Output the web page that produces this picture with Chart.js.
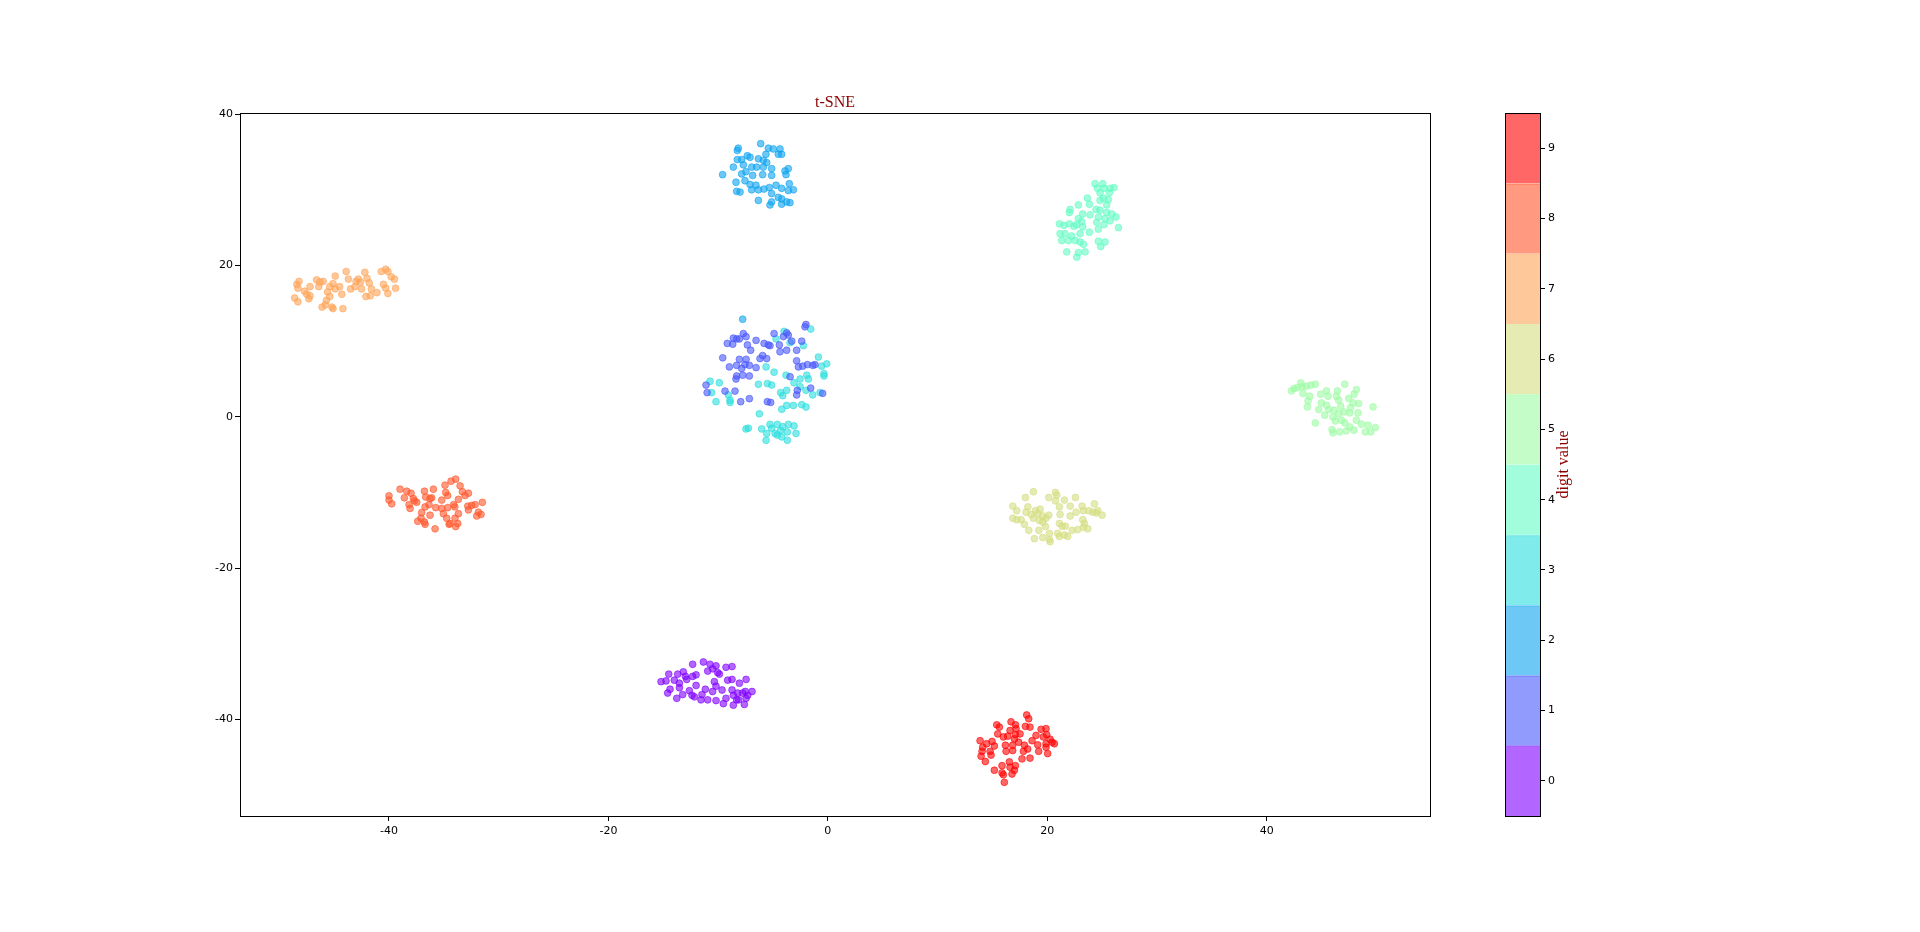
<!DOCTYPE html>
<html>
<head>
<meta charset="utf-8">
<script src="https://cdn.jsdelivr.net/npm/chart.js@4.4.1/dist/chart.umd.min.js"></script>
<style>
  html, body { margin: 0; padding: 0; background: #ffffff; }
  #wrap { position: relative; width: 1920px; height: 932px; }
  canvas { position: absolute; left: 0; top: 0; }
</style>
</head>
<body>
<div id="wrap">
  <canvas id="main" width="1920" height="932"></canvas>
  <canvas id="cbar" width="1920" height="932"></canvas>
</div>
<script>
// ---------------- data ----------------
const digits = [0, 1, 2, 3, 4, 5, 6, 7, 8, 9];
const xTicks = [-40, -20, 0, 20, 40];
const yTicks = [-40, -20, 0, 20, 40];
const colorbarTicks = [0, 1, 2, 3, 4, 5, 6, 7, 8, 9];
const chartTitle = 't-SNE';
const colorbarLabel = 'digit value';

const digit0 = [[-15.2,-35.0],[-14.75,-34.9],[-14.5,-34.0],[-14.38,-36.0],[-14.6,-36.5],[-13.99,-34.8],[-13.68,-34.0],[-13.77,-37.2],[-13.53,-35.2],[-13.53,-35.8],[-13.17,-33.7],[-12.98,-34.3],[-12.86,-34.7],[-13.23,-36.7],[-12.62,-36.2],[-12.32,-34.3],[-12.01,-34.1],[-12.32,-32.7],[-12.01,-35.5],[-12.38,-36.8],[-12.16,-37.0],[-11.47,-36.7],[-11.34,-32.4],[-11.16,-36.0],[-11.56,-37.4],[-10.95,-37.4],[-10.95,-33.6],[-10.74,-32.7],[-10.5,-33.3],[-10.19,-32.9],[-10.04,-33.8],[-9.88,-34.0],[-10.34,-35.0],[-10.19,-35.6],[-10.5,-36.3],[-10.19,-37.5],[-9.64,-36.1],[-9.28,-33.1],[-8.73,-33.0],[-9.13,-34.8],[-8.73,-34.7],[-8.73,-36.1],[-8.61,-36.8],[-9.28,-37.2],[-9.52,-37.9],[-8.61,-38.1],[-8.21,-36.5],[-8.06,-35.2],[-8.12,-37.4],[-7.76,-36.5],[-7.52,-36.3],[-7.45,-34.7],[-7.30,-36.8],[-6.91,-36.3],[-7.45,-37.2],[-7.61,-38.0],[-8.31,-37.4]];
const digit1 = [[-1.99,12.2],[-2.08,11.9],[-3.75,11.1],[-3.6,10.8],[-4.05,10.6],[-4.9,11.0],[-7.7,11.0],[-8.61,10.4],[-8.31,10.3],[-9.16,9.7],[-8.67,9.6],[-8.06,10.3],[-7.45,10.6],[-6.54,10.1],[-7.33,9.5],[-7.03,8.8],[-5.81,9.7],[-5.42,9.5],[-5.27,9.4],[-4.42,9.5],[-4.36,8.6],[-3.75,8.8],[-3.29,10.0],[-2.84,8.8],[-2.38,10.0],[-9.58,7.8],[-8.97,6.6],[-8.31,6.8],[-7.85,6.4],[-7.55,6.9],[-7.15,6.8],[-8.06,7.6],[-7.45,7.6],[-6.54,6.5],[-6.18,7.7],[-5.94,8.1],[-5.57,7.7],[-2.84,7.4],[-2.68,6.6],[-2.29,6.7],[-1.86,6.9],[-1.37,6.8],[-1.17,6.9],[-8.31,5.4],[-7.76,5.5],[-7.15,5.4],[-8.37,5.0],[-3.44,5.3],[-11.1,4.2],[-11.0,3.2],[-9.37,3.4],[-8.46,3.4],[-7.15,2.4],[-7.94,2.0],[-5.51,2.0],[-5.21,1.9],[-2.84,2.9],[-1.56,3.8],[-0.47,3.1],[-2.78,3.5]];
const digit2 = [[-6.12,36.1],[-8.16,35.5],[-8.25,35.2],[-5.42,35.5],[-4.97,35.4],[-4.36,35.4],[-4.51,34.7],[-4.21,34.7],[-5.64,34.7],[-7.34,34.5],[-7.09,34.3],[-8.25,34.0],[-7.85,34.0],[-6.33,34.1],[-5.88,33.9],[-5.57,33.6],[-7.7,33.3],[-6.94,33.0],[-6.49,33.0],[-5.88,33.0],[-5.12,32.8],[-8.61,33.0],[-9.59,32.0],[-7.85,32.1],[-7.46,32.4],[-6.85,31.9],[-5.94,32.0],[-5.12,31.9],[-3.9,32.5],[-3.6,32.8],[-3.81,32.0],[-8.37,31.0],[-7.55,31.2],[-7.09,30.7],[-6.55,30.6],[-8.31,29.8],[-8.0,29.7],[-6.94,30.0],[-6.33,30.0],[-5.82,30.1],[-5.33,30.3],[-4.72,30.6],[-4.21,30.2],[-3.51,30.8],[-3.6,29.9],[-3.14,30.0],[-5.12,29.5],[-4.51,29.0],[-4.21,28.8],[-3.75,28.4],[-3.45,28.3],[-5.12,28.4],[-5.27,28.0],[-4.21,28.1],[-6.33,28.6],[-7.76,12.9]];
const digit3 = [[-3.99,11.3],[-1.56,11.6],[-4.72,10.3],[-3.44,9.8],[-2.23,9.4],[-0.86,7.9],[-0.56,6.7],[-0.1,7.0],[-0.35,5.7],[-0.35,5.4],[-5.63,6.6],[-4.9,5.9],[-3.81,5.5],[-2.53,5.0],[-1.92,5.5],[-1.77,5.0],[-3.08,4.5],[-2.53,4.0],[-1.99,3.5],[-1.38,2.9],[-0.71,3.2],[-6.33,4.3],[-5.51,4.4],[-5.12,4.2],[-4.3,3.2],[-4.11,2.8],[-3.75,3.5],[-10.74,4.7],[-9.89,4.5],[-10.59,3.2],[-10.19,2.0],[-9.07,2.9],[-8.91,1.9],[-8.91,2.2],[-6.24,0.4],[-4.2,1.0],[-3.75,1.5],[-3.14,1.5],[-2.38,1.6],[-1.99,1.3],[-7.24,-1.5],[-7.46,-1.6],[-6.03,-1.6],[-5.27,-1.0],[-5.12,-1.5],[-4.6,-1.0],[-4.11,-1.3],[-3.6,-1.0],[-3.08,-1.2],[-5.57,-2.2],[-4.81,-2.2],[-4.3,-1.8],[-3.69,-2.0],[-2.9,-2.2],[-5.63,-3.1],[-4.6,-2.4],[-3.69,-3.1],[-4.2,-2.65]];
const digit4 = [[24.36,30.8],[25.06,30.8],[24.57,30.2],[25.18,30.2],[25.73,30.2],[26.09,30.3],[24.81,29.6],[25.67,29.6],[23.66,28.9],[25.12,28.9],[25.57,28.7],[24.81,28.6],[23.84,28.1],[22.84,28.0],[25.42,28.0],[22.08,27.4],[22.02,27.0],[24.45,27.4],[24.81,27.3],[25.42,27.0],[25.88,26.8],[26.27,26.4],[23.23,26.8],[23.9,26.7],[24.66,26.4],[22.84,26.2],[25.27,26.2],[25.73,25.9],[24.51,25.7],[23.14,25.8],[21.11,25.5],[21.53,25.3],[22.02,25.5],[22.44,25.2],[22.69,25.4],[23.23,25.1],[25.18,25.4],[24.66,24.8],[26.49,25.0],[21.17,24.2],[21.62,24.2],[22.23,23.9],[22.99,24.2],[23.84,24.4],[21.32,23.3],[21.93,23.3],[22.54,23.3],[22.99,23.1],[23.3,22.8],[24.66,23.2],[25.27,23.1],[24.87,22.5],[21.78,21.8],[22.84,21.7],[23.45,21.8],[22.69,21.1]];
const digit5 = [[42.26,3.43],[42.5,3.74],[42.8,3.87],[43.11,4.49],[43.23,3.96],[43.62,4.05],[44.02,4.18],[44.44,4.31],[43.32,3.08],[43.93,2.72],[43.77,2.11],[43.71,1.31],[44.93,2.99],[45.45,3.43],[45.6,2.72],[44.99,1.84],[44.75,0.96],[45.45,1.53],[45.66,0.96],[45.29,0.21],[44.44,-0.8],[46.45,3.43],[46.36,2.72],[46.57,2.2],[47.12,4.31],[46.75,1.4],[46.14,0.87],[46.05,-0.01],[46.57,0.43],[47.06,0.65],[46.27,-0.54],[46.81,-0.45],[47.12,-0.8],[45.96,-1.68],[46.05,-2.12],[46.66,-1.99],[47.48,2.42],[47.88,1.84],[47.66,1.22],[47.57,0.52],[48.18,3.6],[47.97,2.99],[48.39,1.75],[48.33,0.52],[48.18,-0.45],[47.57,-1.33],[47.27,-1.86],[47.97,-1.77],[48.64,-0.98],[49.24,-1.11],[49.0,-1.99],[49.49,-1.99],[49.7,1.31],[49.91,-1.42]];
const digit6 = [[16.86,-11.8],[17.22,-12.4],[16.86,-13.4],[17.22,-13.6],[17.62,-13.6],[17.92,-14.2],[18.01,-10.66],[18.23,-11.9],[18.07,-12.6],[18.32,-15.0],[18.74,-9.9],[18.53,-12.9],[18.74,-13.4],[18.93,-12.4],[19.14,-12.8],[19.35,-12.2],[19.29,-13.7],[18.83,-16.1],[19.23,-15.0],[19.59,-13.1],[19.9,-13.4],[20.14,-13.0],[19.59,-13.9],[19.84,-14.5],[20.14,-10.66],[20.2,-15.4],[20.2,-16.2],[20.26,-16.5],[19.59,-15.95],[20.75,-10.0],[20.87,-10.35],[20.75,-11.1],[21.11,-11.9],[21.17,-12.9],[21.11,-14.1],[21.36,-14.45],[20.96,-15.4],[21.11,-15.8],[21.57,-11.0],[21.66,-14.45],[21.57,-15.6],[21.87,-15.8],[22.09,-13.1],[22.09,-11.8],[22.27,-15.0],[22.57,-10.66],[22.63,-12.6],[22.78,-14.9],[23.18,-11.8],[23.3,-12.4],[23.24,-13.6],[23.3,-14.6],[23.7,-14.8],[23.79,-12.4],[24.3,-11.5],[24.15,-12.6],[24.46,-12.7],[24.61,-12.4],[25.0,-13.0],[23.39,-14.1]];
const digit7 = [[-48.6,15.7],[-48.3,15.2],[-48.4,17.5],[-48.2,17.9],[-48.3,17.0],[-47.7,16.6],[-47.5,16.2],[-47.3,15.6],[-47.2,16.0],[-47.2,17.2],[-46.6,18.1],[-46.3,17.8],[-46.4,17.2],[-46.0,17.9],[-46.1,14.5],[-45.8,14.8],[-45.7,15.4],[-45.6,16.5],[-45.4,15.9],[-45.2,14.5],[-45.1,14.3],[-45.4,17.2],[-45.1,17.6],[-44.9,18.6],[-44.9,16.9],[-44.5,17.2],[-44.3,16.2],[-44.2,14.3],[-43.9,19.2],[-43.7,18.2],[-43.5,16.9],[-43.1,17.2],[-43.0,17.9],[-42.8,18.2],[-42.6,17.8],[-42.5,16.9],[-42.2,19.1],[-42.0,18.3],[-41.8,17.7],[-41.6,16.9],[-42.1,15.9],[-41.7,16.0],[-41.1,16.4],[-40.7,19.2],[-40.3,19.5],[-40.1,19.2],[-39.8,18.5],[-39.5,18.2],[-39.4,17.0],[-40.5,17.5],[-40.3,17.0],[-40.1,16.3]];
const digit8 = [[-40.0,-10.44],[-40.0,-11.0],[-39.75,-11.5],[-38.99,-9.56],[-38.38,-9.83],[-38.6,-10.7],[-37.99,-10.1],[-37.78,-10.8],[-38.17,-11.6],[-38.08,-12.1],[-37.47,-11.3],[-37.68,-11.1],[-36.77,-9.83],[-36.65,-10.6],[-36.26,-10.8],[-35.95,-9.56],[-36.11,-10.7],[-36.71,-11.9],[-37.02,-12.65],[-37.08,-13.4],[-37.38,-13.8],[-36.77,-13.9],[-36.71,-14.2],[-36.26,-13.0],[-36.35,-11.6],[-35.74,-12.0],[-35.8,-14.8],[-35.19,-11.0],[-34.89,-9.03],[-34.34,-8.5],[-33.92,-8.24],[-34.83,-10.0],[-34.65,-10.4],[-34.65,-12.0],[-35.19,-12.1],[-35.04,-12.8],[-34.1,-11.6],[-34.0,-11.9],[-33.67,-10.9],[-33.31,-9.9],[-33.52,-9.12],[-34.74,-13.4],[-34.43,-14.1],[-34.52,-14.2],[-33.98,-13.4],[-33.92,-14.5],[-33.73,-14.1],[-33.67,-12.8],[-33.07,-10.4],[-32.76,-10.1],[-32.82,-11.8],[-32.46,-11.7],[-32.15,-11.6],[-32.76,-12.3],[-31.85,-12.6],[-31.61,-12.9],[-31.49,-11.3],[-32.0,-13.1]];
const digit9 = [[13.88,-42.8],[14.06,-44.2],[13.97,-44.85],[14.36,-45.55],[14.12,-43.66],[14.48,-43.2],[14.97,-42.9],[14.79,-44.2],[14.88,-44.7],[15.18,-43.5],[15.4,-40.7],[15.64,-41.0],[15.49,-41.9],[15.18,-46.7],[15.88,-46.1],[15.88,-47.05],[16.0,-47.3],[16.09,-48.3],[16.0,-42.3],[16.19,-43.4],[16.25,-44.2],[16.4,-42.2],[16.7,-40.3],[16.61,-41.45],[16.55,-45.6],[16.79,-47.2],[16.61,-46.3],[17.01,-46.7],[17.1,-46.1],[16.85,-44.1],[17.1,-40.7],[17.16,-41.2],[17.1,-42.0],[17.52,-41.9],[17.01,-42.56],[16.85,-43.4],[17.4,-43.0],[18.13,-39.4],[18.31,-39.9],[18.01,-40.9],[18.43,-41.0],[17.92,-43.4],[18.22,-43.9],[17.83,-44.2],[17.7,-45.2],[18.43,-45.1],[18.62,-42.8],[18.98,-42.1],[19.13,-43.35],[19.22,-44.2],[19.44,-41.3],[19.89,-41.2],[19.95,-42.0],[19.65,-42.3],[19.89,-43.2],[20.26,-42.6],[20.44,-43.0],[20.65,-43.2],[19.89,-43.66],[20.04,-44.5]];

const digitPoints = [digit0, digit1, digit2, digit3, digit4, digit5, digit6, digit7, digit8, digit9];

// ---------------- style ----------------
// matplotlib 'rainbow' colormap resampled to 10 colours
const palette = [
  [128, 0, 255], [71, 87, 251], [14, 164, 240], [43, 221, 221], [99, 251, 195],
  [156, 251, 164], [212, 221, 128], [255, 164, 87], [255, 87, 44], [255, 0, 0]
];
const ALPHA = 0.6;
const rgba = (c, a) => `rgba(${c[0]},${c[1]},${c[2]},${a})`;
const X_RANGE = [-53.58, 54.89];
const Y_RANGE = [-52.75, 40.15];
const TITLE_COLOR = '#8b0000';
const SERIF = '"Liberation Serif", "Times New Roman", serif';
const SANS = '"DejaVu Sans", sans-serif';
const TICK_FONT = { family: SANS, size: 11 };

const framePlugin = {
  id: 'frame',
  afterDraw(chart) {
    const a = chart.chartArea, ctx = chart.ctx;
    ctx.save();
    ctx.strokeStyle = '#000';
    ctx.lineWidth = 1;
    ctx.strokeRect(Math.round(a.left) + 0.5, Math.round(a.top) + 0.5,
                   Math.round(a.right - a.left), Math.round(a.bottom - a.top));
    ctx.restore();
  }
};

const titlePlugin = {
  id: 'mplTitle',
  afterDraw(chart) {
    const a = chart.chartArea, ctx = chart.ctx;
    ctx.save();
    ctx.font = `16px ${SERIF}`;
    ctx.fillStyle = TITLE_COLOR;
    ctx.textAlign = 'center';
    ctx.textBaseline = 'alphabetic';
    ctx.fillText(chartTitle, (a.left + a.right) / 2, a.top - 6);
    ctx.restore();
  }
};

const axisCommon = (ticks, fitFn, pad) => ({
  type: 'linear',
  afterBuildTicks: s => { s.ticks = ticks.map(v => ({ value: v })); },
  afterFit: fitFn,
  grid: { display: true, drawOnChartArea: false, drawTicks: true, tickLength: 5, tickColor: '#000', tickWidth: 1 },
  border: { display: false },
  ticks: { color: '#000', font: TICK_FONT, padding: pad, maxRotation: 0, autoSkip: false,
           callback: v => String(v) }
});

new Chart(document.getElementById('main'), {
  type: 'scatter',
  data: {
    datasets: digits.map((d, i) => ({
      label: String(d),
      data: digitPoints[i].map(([x, y]) => ({ x, y })),
      backgroundColor: rgba(palette[i], ALPHA),
      borderColor: rgba(palette[i], ALPHA),
      borderWidth: 1,
      pointRadius: 3.4,
      pointHoverRadius: 3.4
    }))
  },
  options: {
    responsive: false,
    animation: false,
    events: [],
    layout: { padding: { left: 180, right: 490, top: 113, bottom: 76 } },
    plugins: { legend: { display: false }, tooltip: { enabled: false }, title: { display: false } },
    scales: {
      x: Object.assign(axisCommon(xTicks, s => { s.height = 40; }, 4), { min: X_RANGE[0], max: X_RANGE[1] }),
      y: Object.assign(axisCommon(yTicks, s => { s.width = 60; }, 2), { min: Y_RANGE[0], max: Y_RANGE[1] })
    }
  },
  plugins: [framePlugin, titlePlugin]
});

// ---------------- colour bar ----------------
const cbarLabelPlugin = {
  id: 'cbarLabel',
  afterDraw(chart) {
    const a = chart.chartArea, ctx = chart.ctx;
    ctx.save();
    ctx.font = `16px ${SERIF}`;
    ctx.fillStyle = TITLE_COLOR;
    ctx.textAlign = 'center';
    ctx.textBaseline = 'middle';
    ctx.translate(a.right + 24, (a.top + a.bottom) / 2);
    ctx.rotate(-Math.PI / 2);
    ctx.fillText(colorbarLabel, 0, 0);
    ctx.restore();
  }
};

new Chart(document.getElementById('cbar'), {
  type: 'bar',
  data: {
    labels: ['digit'],
    datasets: digits.map((d, i) => ({
      label: String(d),
      data: [[d - 0.5, d + 0.5]],
      backgroundColor: rgba(palette[i], ALPHA),
      borderColor: rgba(palette[i], 0.35),
      borderWidth: { top: 1, bottom: 0, left: 0, right: 0 },
      borderSkipped: false,
      barPercentage: 1,
      categoryPercentage: 1,
      grouped: false
    }))
  },
  options: {
    responsive: false,
    animation: false,
    events: [],
    layout: { padding: { left: 1505, right: 340, top: 113, bottom: 116 } },
    plugins: { legend: { display: false }, tooltip: { enabled: false } },
    scales: {
      x: { display: false },
      y: Object.assign(axisCommon(colorbarTicks, s => { s.width = 40; }, 3),
                       { position: 'right', min: -0.5, max: 9.5 })
    }
  },
  plugins: [framePlugin, cbarLabelPlugin]
});
</script>
</body>
</html>
